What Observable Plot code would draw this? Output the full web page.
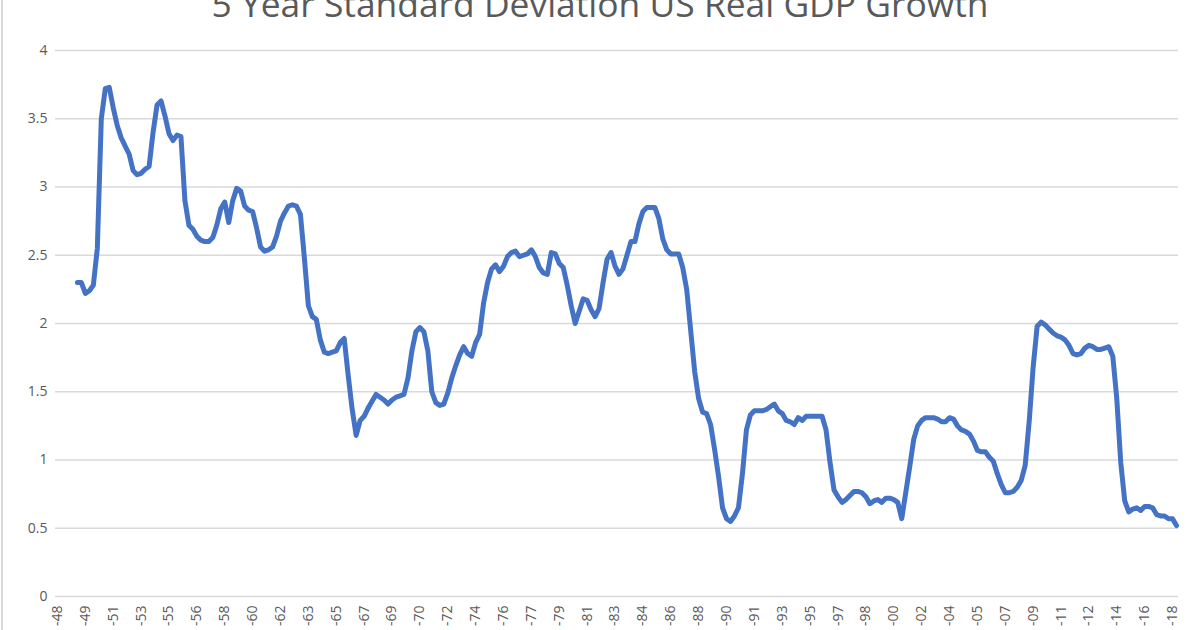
<!DOCTYPE html>
<html><head><meta charset="utf-8">
<script src="https://cdn.jsdelivr.net/npm/d3@7"></script>
<script src="https://cdn.jsdelivr.net/npm/@observablehq/plot@0.6"></script>
<style>
html,body{margin:0;padding:0;background:#fff;overflow:hidden;}
#wrap{position:relative;width:1200px;height:630px;overflow:hidden;}
#title{position:absolute;left:0;top:-14px;width:1200px;text-align:center;font-family:"Open Sans";font-size:35.4px;line-height:35px;color:#595959;white-space:nowrap;}
#border{position:absolute;left:1px;top:0;width:0;height:630px;border-left:2px solid #d9d9d9;}
</style></head><body>
<div id="wrap"><div id="chart"></div><div id="title">5 Year Standard Deviation US Real GDP Growth</div><div id="border"></div></div>
<script>
// Category tick labels (every 7th quarter, starting 1948Q1)
const tickLabels = ["-48","-49","-51","-53","-55","-56","-58","-60","-62","-63","-65","-67","-69","-70","-72","-74","-76","-77","-79","-81","-83","-84","-86","-88","-90","-91","-93","-95","-97","-98","-00","-02","-04","-05","-07","-09","-11","-12","-14","-16","-18"];
const tickStep = 7;          // quarters between labels
const nQuarters = 282;       // 1948Q1 .. 2018Q2
const firstQuarter = 5;      // first data point: 1949Q2
// 5-year standard deviation of US real GDP growth, quarterly from 1949Q2
const sdValues = [
2.30,2.30,2.22,2.24,2.28,2.55,3.50,3.72,3.73,3.58,
3.45,3.36,3.30,3.24,3.12,3.09,3.10,3.13,3.15,3.40,
3.60,3.63,3.52,3.39,3.34,3.38,3.37,2.90,2.72,2.69,
2.64,2.61,2.60,2.60,2.63,2.72,2.84,2.89,2.74,2.90,
2.99,2.97,2.86,2.83,2.82,2.70,2.56,2.53,2.54,2.56,
2.64,2.75,2.81,2.86,2.87,2.86,2.80,2.48,2.13,2.05,
2.03,1.88,1.79,1.78,1.79,1.80,1.86,1.89,1.62,1.37,
1.18,1.29,1.32,1.38,1.43,1.48,1.46,1.44,1.41,1.44,
1.46,1.47,1.48,1.60,1.80,1.94,1.97,1.94,1.80,1.50,
1.42,1.40,1.41,1.49,1.60,1.69,1.77,1.83,1.78,1.76,
1.86,1.92,2.15,2.30,2.40,2.43,2.38,2.42,2.49,2.52,
2.53,2.49,2.50,2.51,2.54,2.49,2.41,2.37,2.36,2.52,
2.51,2.44,2.41,2.28,2.13,2.00,2.09,2.18,2.17,2.10,
2.05,2.11,2.30,2.47,2.52,2.42,2.36,2.40,2.50,2.60,
2.60,2.73,2.82,2.85,2.85,2.85,2.77,2.62,2.54,2.51,
2.51,2.51,2.41,2.25,1.95,1.65,1.45,1.35,1.34,1.26,
1.08,0.88,0.65,0.57,0.55,0.59,0.65,0.90,1.22,1.33,
1.36,1.36,1.36,1.37,1.39,1.41,1.36,1.34,1.29,1.28,
1.26,1.31,1.29,1.32,1.32,1.32,1.32,1.32,1.22,0.98,
0.78,0.73,0.69,0.71,0.74,0.77,0.77,0.76,0.73,0.68,
0.70,0.71,0.69,0.72,0.72,0.71,0.69,0.57,0.76,0.95,
1.15,1.25,1.29,1.31,1.31,1.31,1.30,1.28,1.28,1.31,
1.30,1.25,1.22,1.21,1.19,1.14,1.07,1.06,1.06,1.02,
0.99,0.90,0.82,0.76,0.76,0.77,0.80,0.85,0.96,1.28,
1.68,1.98,2.01,1.99,1.96,1.93,1.91,1.90,1.88,1.84,
1.78,1.77,1.78,1.82,1.84,1.83,1.81,1.81,1.82,1.83,
1.76,1.45,0.98,0.70,0.62,0.64,0.65,0.63,0.66,0.66,
0.65,0.60,0.59,0.59,0.57,0.57,0.52
];
const yTicks = [0,0.5,1,1.5,2,2.5,3,3.5,4];

const data = sdValues.map((v,k)=>({q:firstQuarter+k, v}));
const xTicks = tickLabels.map((_,j)=>j*tickStep);

const plot = Plot.plot({
  width:1200, height:630,
  marginLeft:55, marginRight:22, marginTop:50, marginBottom:34,
  style:{fontFamily:"Open Sans", fontSize:"14px", color:"#595959", background:"#fff", overflow:"visible"},
  x:{domain:[-0.5, nQuarters-0.5]},
  y:{domain:[0,4]},
  marks:[
    Plot.ruleY(yTicks,{stroke:"#d9d9d9", strokeWidth:1.3}),
    Plot.axisY({ticks:yTicks, tickSize:0, tickPadding:8, tickFormat:d=>String(d), label:null, fill:"#595959"}),
    Plot.axisX({ticks:xTicks, tickSize:0, tickPadding:9, tickRotate:-90, tickFormat:i=>tickLabels[Math.round(i/tickStep)], label:null, fill:"#595959"}),
    Plot.line(data,{x:"q", y:"v", stroke:"#4472C4", strokeWidth:5, strokeLinejoin:"round", strokeLinecap:"round"})
  ]
});
document.getElementById("chart").appendChild(plot);
</script>
</body></html>
